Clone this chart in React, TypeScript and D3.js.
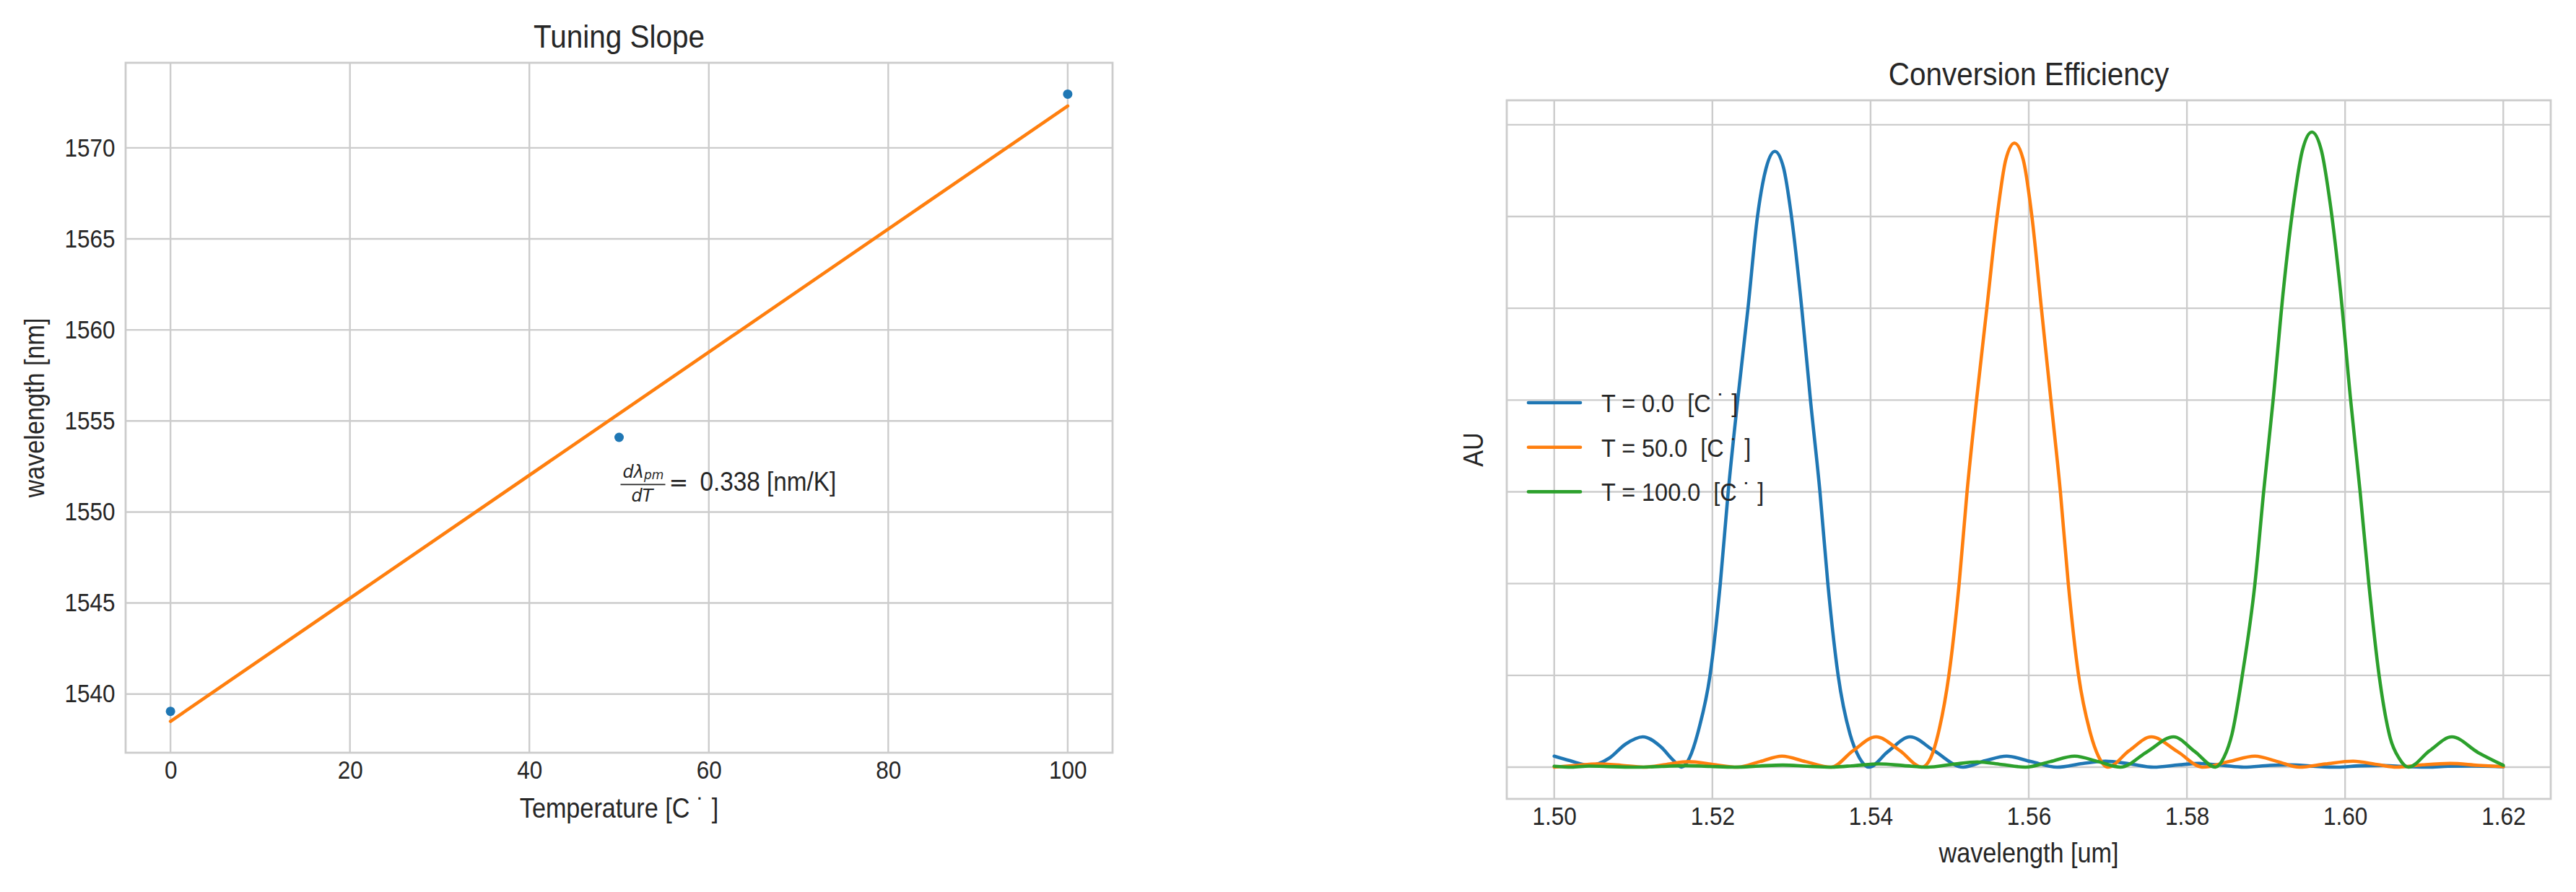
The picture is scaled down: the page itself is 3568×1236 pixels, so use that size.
import React, { useEffect, useRef } from 'react';
import * as d3 from 'd3';

// Tuning slope: measured phase-matching wavelength vs temperature
const temperatures = [0, 50, 100];
const phaseMatchWl = [1539.05, 1554.1, 1572.95];
// end points of the linear fit drawn in orange
const fitTemperatures = [0, 100];
const fitWl = [1538.5, 1572.3];
const slopeText = '0.338 [nm/K]';
const tempTicks = [0, 20, 40, 60, 80, 100];
const nmTicks = [1540, 1545, 1550, 1555, 1560, 1565, 1570];

// Conversion efficiency spectra, [wavelength um, AU]
const effT0: [number, number][] = [
  [1.5000, 0.12], [1.5020, 0.07], [1.5045, 0.02], [1.5070, 0.10], [1.5090, 0.25],
  [1.5112, 0.33], [1.5135, 0.22], [1.5150, 0.08], [1.5161, 0.00], [1.5171, 0.10],
  [1.5183, 0.42], [1.5197, 1.00], [1.5210, 2.00], [1.5220, 3.00], [1.5232, 4.00],
  [1.5245, 5.00], [1.5257, 6.00], [1.5268, 6.53], [1.5279, 6.71], [1.5290, 6.53],
  [1.5300, 6.00], [1.5313, 5.00], [1.5324, 4.00], [1.5336, 3.00], [1.5346, 2.00],
  [1.5359, 1.00], [1.5374, 0.36], [1.5386, 0.10], [1.5398, 0.00], [1.5422, 0.17],
  [1.5450, 0.33], [1.5480, 0.18], [1.5517, 0.00], [1.5545, 0.07], [1.5572, 0.12],
  [1.5603, 0.06], [1.5636, 0.00], [1.5668, 0.04], [1.5697, 0.065], [1.5728, 0.035],
  [1.5758, 0.00], [1.5790, 0.025], [1.5815, 0.04], [1.5845, 0.02], [1.5872, 0.00],
  [1.5905, 0.02], [1.5930, 0.025], [1.5960, 0.01], [1.5990, 0.00], [1.6020, 0.015],
  [1.6045, 0.018], [1.6075, 0.008], [1.6105, 0.00], [1.6130, 0.01], [1.6160, 0.012],
  [1.6200, 0.005],
];
const effT50: [number, number][] = [
  [1.5000, 0.00], [1.5028, 0.02], [1.5055, 0.035], [1.5085, 0.02], [1.5113, 0.00],
  [1.5142, 0.03], [1.5170, 0.06], [1.5200, 0.03], [1.5232, 0.00], [1.5260, 0.06],
  [1.5288, 0.12], [1.5318, 0.06], [1.5350, 0.00], [1.5378, 0.18], [1.5407, 0.33],
  [1.5437, 0.18], [1.5465, 0.00], [1.5476, 0.10], [1.5487, 0.42], [1.5499, 1.00],
  [1.5512, 2.00], [1.5522, 3.00], [1.5534, 4.00], [1.5547, 5.00], [1.5560, 6.00],
  [1.5571, 6.62], [1.5582, 6.80], [1.5593, 6.62], [1.5604, 6.00], [1.5616, 5.00],
  [1.5628, 4.00], [1.5640, 3.00], [1.5650, 2.00], [1.5663, 1.00], [1.5677, 0.40],
  [1.5688, 0.12], [1.5700, 0.00], [1.5727, 0.18], [1.5755, 0.33], [1.5788, 0.17],
  [1.5820, 0.00], [1.5853, 0.06], [1.5886, 0.12], [1.5915, 0.06], [1.5942, 0.00],
  [1.5975, 0.035], [1.6010, 0.065], [1.6040, 0.03], [1.6065, 0.00], [1.6098, 0.025],
  [1.6133, 0.04], [1.6168, 0.02], [1.6200, 0.005],
];
const effT100: [number, number][] = [
  [1.5000, 0.01], [1.5022, 0.00], [1.5044, 0.012], [1.5075, 0.005], [1.5105, 0.00],
  [1.5136, 0.008], [1.5166, 0.017], [1.5197, 0.008], [1.5228, 0.00], [1.5259, 0.012],
  [1.5289, 0.023], [1.5320, 0.01], [1.5350, 0.00], [1.5381, 0.018], [1.5411, 0.035],
  [1.5442, 0.017], [1.5472, 0.00], [1.5503, 0.03], [1.5535, 0.057], [1.5565, 0.03],
  [1.5596, 0.00], [1.5627, 0.06], [1.5658, 0.12], [1.5688, 0.06], [1.5716, 0.00],
  [1.5750, 0.17], [1.5783, 0.33], [1.5810, 0.17], [1.5836, 0.00], [1.5847, 0.11],
  [1.5857, 0.36], [1.5870, 1.00], [1.5886, 2.00], [1.5897, 3.00], [1.5909, 4.00],
  [1.5922, 5.20], [1.5935, 6.15], [1.5946, 6.72], [1.5958, 6.92], [1.5970, 6.72],
  [1.5981, 6.15], [1.5994, 5.20], [1.6007, 4.00], [1.6019, 3.00], [1.6030, 2.00],
  [1.6043, 1.00], [1.6057, 0.32], [1.6068, 0.10], [1.6080, 0.00], [1.6107, 0.18],
  [1.6135, 0.33], [1.6168, 0.16], [1.6200, 0.02],
];
const seriesLabels = ['T = 0.0  [C \u02D9 ]', 'T = 50.0  [C \u02D9 ]', 'T = 100.0  [C \u02D9 ]'];
const umTicks = [1.50, 1.52, 1.54, 1.56, 1.58, 1.60, 1.62];
const auTicks = [0, 1, 2, 3, 4, 5, 6, 7];

const COLORS = ['#1f77b4', '#ff7f0e', '#2ca02c'];
const FONT = "'Liberation Sans', Arial, sans-serif";
const MATH = "'DejaVu Sans', sans-serif";
const INK = '#262626';
const GRID = '#cccccc';
const SQ = 'scale(0.9,1)'; // the reference text is a little narrow

const W = 3568;
const H = 1236;
const leftBox = { x0: 174, x1: 1541, y0: 87, y1: 1043 };
const rightBox = { x0: 2087, x1: 3533, y0: 139, y1: 1107 };

// matplotlib style 5% margins
const padded = (vals: number[]): [number, number] => {
  const [lo, hi] = d3.extent(vals) as [number, number];
  const m = (hi - lo) * 0.05;
  return [lo - m, hi + m];
};

const App: React.FC = () => {
  const ref = useRef<SVGSVGElement>(null);

  useEffect(() => {
    document.body.style.margin = '0';
    const svg = d3.select(ref.current);
    svg.selectAll('*').remove();

    const label = (g: any, txt: string, x: number, y: number, size: number, rot = false) =>
      g.append('text')
        .attr('transform', `translate(${x},${y})${rot ? ' rotate(-90)' : ''} ${SQ}`)
        .attr('text-anchor', 'middle')
        .attr('font-family', FONT)
        .attr('font-size', size)
        .attr('fill', INK)
        .style('white-space', 'pre')
        .text(txt);

    const drawFrame = (box: typeof leftBox, x: any, y: any, xt: number[], yt: number[]) => {
      const g = svg.append('g');
      g.selectAll('line.gx').data(xt).enter().append('line')
        .attr('x1', d => x(d)).attr('x2', d => x(d))
        .attr('y1', box.y0).attr('y2', box.y1)
        .attr('stroke', GRID).attr('stroke-width', 2.4);
      g.selectAll('line.gy').data(yt).enter().append('line')
        .attr('y1', d => y(d)).attr('y2', d => y(d))
        .attr('x1', box.x0).attr('x2', box.x1)
        .attr('stroke', GRID).attr('stroke-width', 2.4);
      g.append('rect')
        .attr('x', box.x0).attr('y', box.y0)
        .attr('width', box.x1 - box.x0).attr('height', box.y1 - box.y0)
        .attr('fill', 'none').attr('stroke', GRID).attr('stroke-width', 2.8);
    };

    const styleAxis = (g: any) => {
      g.select('.domain').remove();
      g.selectAll('text')
        .attr('font-family', FONT).attr('font-size', 35).attr('fill', INK)
        .attr('transform', SQ);
    };

    // ---------- left: Tuning Slope ----------
    const xT = d3.scaleLinear().domain(padded(temperatures)).range([leftBox.x0, leftBox.x1]);
    const yW = d3.scaleLinear().domain(padded([...phaseMatchWl, ...fitWl])).range([leftBox.y1, leftBox.y0]);

    drawFrame(leftBox, xT, yW, tempTicks, nmTicks);

    svg.append('g').attr('transform', `translate(0,${leftBox.y1})`)
      .call(d3.axisBottom(xT).tickValues(tempTicks).tickSize(0).tickPadding(11).tickFormat(d3.format('d')))
      .call(styleAxis);
    svg.append('g').attr('transform', `translate(${leftBox.x0},0)`)
      .call(d3.axisLeft(yW).tickValues(nmTicks).tickSize(0).tickPadding(16).tickFormat(d3.format('d')))
      .call(styleAxis);

    const fitLine = d3.line<number>().x((d, i) => xT(fitTemperatures[i])).y(d => yW(d));
    svg.append('path')
      .attr('d', fitLine(fitWl))
      .attr('fill', 'none').attr('stroke', COLORS[1]).attr('stroke-width', 4.6)
      .attr('stroke-linecap', 'round');

    svg.selectAll('circle.pm').data(phaseMatchWl).enter().append('circle')
      .attr('cx', (d, i) => xT(temperatures[i]))
      .attr('cy', d => yW(d))
      .attr('r', 6.5)
      .attr('fill', COLORS[0]);

    // slope annotation, anchored in data coordinates
    const ann = svg.append('g')
      .attr('transform', `translate(${xT(50) + 2},${yW(1551.15)})`);
    const num = ann.append('text')
      .attr('x', 3).attr('y', -18)
      .attr('font-family', MATH).attr('font-style', 'italic')
      .attr('font-size', 24).attr('fill', INK);
    num.append('tspan').text('d\u03BB');
    num.append('tspan').attr('font-size', 17).attr('dy', 2).text('pm');
    ann.append('line')
      .attr('x1', 0).attr('x2', 62).attr('y1', -9).attr('y2', -9)
      .attr('stroke', INK).attr('stroke-width', 1.8);
    ann.append('text')
      .attr('x', 30).attr('y', 15).attr('text-anchor', 'middle')
      .attr('font-family', MATH).attr('font-style', 'italic')
      .attr('font-size', 24).attr('fill', INK)
      .text('dT');
    ann.append('text')
      .attr('x', 67).attr('y', 0)
      .attr('font-family', MATH).attr('font-size', 32).attr('fill', INK)
      .text('=');
    ann.append('text')
      .attr('transform', `translate(110,0) ${SQ}`)
      .attr('font-family', FONT).attr('font-size', 37).attr('fill', INK)
      .text(slopeText);

    label(svg, 'Tuning Slope', (leftBox.x0 + leftBox.x1) / 2, leftBox.y0 - 21, 45);
    label(svg, 'Temperature [C \u02D9 ]', (leftBox.x0 + leftBox.x1) / 2, leftBox.y1 + 90, 38);
    label(svg, 'wavelength [nm]', 61, (leftBox.y0 + leftBox.y1) / 2, 38, true);

    // ---------- right: Conversion Efficiency ----------
    const spectra = [effT0, effT50, effT100];
    const allPts = spectra.flat();
    const xU = d3.scaleLinear().domain(padded(allPts.map(d => d[0]))).range([rightBox.x0, rightBox.x1]);
    const yA = d3.scaleLinear().domain(padded(allPts.map(d => d[1]))).range([rightBox.y1, rightBox.y0]);

    drawFrame(rightBox, xU, yA, umTicks, auTicks);

    svg.append('g').attr('transform', `translate(0,${rightBox.y1})`)
      .call(d3.axisBottom(xU).tickValues(umTicks).tickSize(0).tickPadding(11).tickFormat(d3.format('.2f')))
      .call(styleAxis);

    const spec = d3.line<[number, number]>()
      .x(d => xU(d[0])).y(d => yA(d[1]))
      .curve(d3.curveMonotoneX);
    spectra.forEach((s, i) => {
      svg.append('path')
        .attr('d', spec(s))
        .attr('fill', 'none').attr('stroke', COLORS[i]).attr('stroke-width', 4.6)
        .attr('stroke-linejoin', 'round').attr('stroke-linecap', 'round');
    });

    // legend (no frame, like seaborn-whitegrid)
    const legend = svg.append('g')
      .attr('transform', `translate(${rightBox.x0 + 30},${rightBox.y0 + 419})`);
    seriesLabels.forEach((t, i) => {
      const row = legend.append('g').attr('transform', `translate(0,${i * 61.7})`);
      row.append('line')
        .attr('x1', 0).attr('x2', 72).attr('y1', 0).attr('y2', 0)
        .attr('stroke', COLORS[i]).attr('stroke-width', 4.6).attr('stroke-linecap', 'round');
      row.append('text')
        .attr('transform', `translate(101,0) ${SQ}`)
        .attr('dy', '0.36em')
        .attr('font-family', FONT).attr('font-size', 36).attr('fill', INK)
        .style('white-space', 'pre')
        .text(t);
    });

    label(svg, 'Conversion Efficiency', (rightBox.x0 + rightBox.x1) / 2, rightBox.y0 - 21, 45);
    label(svg, 'wavelength [um]', (rightBox.x0 + rightBox.x1) / 2, rightBox.y1 + 88, 38);
    label(svg, 'AU', 2054, (rightBox.y0 + rightBox.y1) / 2, 38, true);
  }, []);

  return (
    <svg ref={ref} width={W} height={H} style={{ display: 'block', background: '#fff' }} />
  );
};

export default App;
